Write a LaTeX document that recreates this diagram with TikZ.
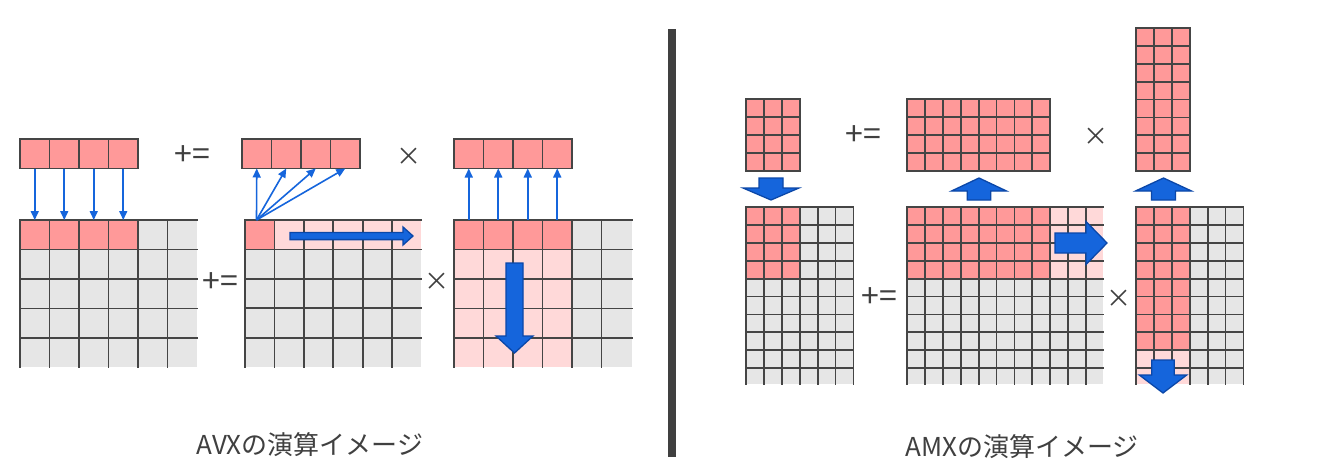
\documentclass[tikz,border=0pt]{standalone}
\usepackage{fontspec}
\setmainfont{Noto Sans CJK JP}
\usetikzlibrary{arrows.meta}
\definecolor{pk}{HTML}{FF9999}
\definecolor{lpk}{HTML}{FFD9D9}
\definecolor{gr}{HTML}{E6E6E6}
\definecolor{ln}{HTML}{454545}
\definecolor{bl}{HTML}{1565DC}
\definecolor{dbl}{HTML}{0B47A8}
\definecolor{tx}{HTML}{404040}
\newcommand{\mgrid}[7]{%
  \foreach \k in {0,...,#6} \draw[gl] ({#1+\k*#3},{#2}) -- ({#1+\k*#3},{#2+#5});
  \foreach \k in {0,...,#7} \draw[gl] ({#1},{#2+\k*#3}) -- ({#1+#4},{#2+\k*#3});
}
% vertical block arrow: cx, body end y, head base y, tip y, body half, head half
\newcommand{\blkV}[6]{%
  \draw[blk] ({#1-#5},{#2}) -- ({#1+#5},{#2}) -- ({#1+#5},{#3}) -- ({#1+#6},{#3})
    -- ({#1},{#4}) -- ({#1-#6},{#3}) -- ({#1-#5},{#3}) -- cycle;}
% horizontal block arrow: cy, body end x, head base x, tip x, body half, head half
\newcommand{\blkH}[6]{%
  \draw[blk] ({#2},{#1-#5}) -- ({#2},{#1+#5}) -- ({#3},{#1+#5}) -- ({#3},{#1+#6})
    -- ({#4},{#1}) -- ({#3},{#1-#6}) -- ({#3},{#1-#5}) -- cycle;}
\begin{document}
\begin{tikzpicture}[x=1pt,y=-1pt,
  gl/.style={draw=ln,line width=1.8pt,line cap=rect},
  cellA/.style={draw=ln,fill=pk,line width=1.8pt,minimum size=29.5pt,inner sep=0pt,outer sep=0pt,anchor=north west},
  thinarr/.style={draw=bl,line width=1.6pt,-{Triangle[length=9pt,width=8pt]}},
  blk/.style={fill=bl,draw=dbl,line width=1.3pt,line join=miter},
  txt/.style={text=tx,font=\fontsize{26}{30}\selectfont,inner sep=0pt},
  op/.style={text=tx,font=\fontsize{32}{36}\selectfont,inner sep=0pt},
  mul/.style={text=tx,font=\fontsize{25}{30}\selectfont,inner sep=0pt}]
\useasboundingbox (0,0) rectangle (1344,476);
\fill[white] (0,0) rectangle (1344,476);

% ===== AVX =====
% matrix 1
\fill[gr] (20,220) rectangle (197,367);
\fill[pk] (20,220) rectangle (138,249.5);
\mgrid{20}{220}{29.5}{177}{147}{5}{4}
\foreach \i in {1,...,4} \node[cellA] (va\i) at ({20+(\i-1)*29.5},139) {};
\foreach \i in {1,...,4} {
  \coordinate (ga\i) at ({20+(\i-0.5)*29.5},220);
  \draw[thinarr] (va\i.south) -- (ga\i);
}
% matrix 2
\fill[gr] (245,220) rectangle (421,367);
\fill[lpk] (245,220) rectangle (421,249.4);
\fill[pk] (245,220) rectangle (274.4,249.4);
\mgrid{245}{220}{29.4}{176}{147}{5}{4}
\foreach \i in {1,...,4} \node[cellA] (vb\i) at ({242+(\i-1)*29.5},139) {};
\coordinate (gb) at (256.5,220);
\foreach \i in {1,...,4} \draw[thinarr] (gb) -- (vb\i.south);
\blkH{236}{290}{403}{413}{3.6}{9}
% matrix 3
\fill[gr] (454,220) rectangle (632,367);
\fill[lpk] (454,220) rectangle (572,367);
\fill[pk] (454,220) rectangle (572,249.5);
\mgrid{454}{220}{29.5}{178}{147}{5}{4}
\foreach \i in {1,...,4} \node[cellA] (vc\i) at ({454+(\i-1)*29.5},139) {};
\foreach \i in {1,...,4} {
  \coordinate (gc\i) at ({454+(\i-0.5)*29.5},220);
  \draw[thinarr] (gc\i) -- (vc\i.south);
}
\blkV{514.5}{263}{336}{353}{8.5}{18.5}

\node[op] (p1) at (192,156) {+=};
\node[mul] (m1) at (409,157) {×};
\node[op] (p2) at (220,283) {+=};
\node[mul] (m2) at (437,282) {×};
\node[txt] (cap1) at (310,445) {AVXの演算イメージ};

% divider
\fill[tx] (668,29) rectangle (676,457);

% ===== AMX =====
% A
\fill[pk] (746,99) rectangle (799.7,170.6);
\mgrid{746}{99}{17.9}{53.7}{71.6}{3}{4}
\blkV{771}{178}{188}{200}{12}{28}
% C
\fill[gr] (746,207) rectangle (853.4,384);
\fill[pk] (746,207) rectangle (799.7,278.6);
\mgrid{746}{207}{17.9}{107.4}{177}{6}{9}
% B
\fill[pk] (907,99) rectangle (1050.2,170.6);
\mgrid{907}{99}{17.9}{143.2}{71.6}{8}{4}
\blkV{979}{200}{191}{178}{11.7}{27.5}
% M
\fill[gr] (907,207) rectangle (1103,384);
\fill[lpk] (1050.2,207) rectangle (1103,278.6);
\fill[pk] (907,207) rectangle (1050.2,278.6);
\mgrid{907}{207}{17.9}{196}{177}{10}{9}
\blkH{243}{1055}{1086}{1107}{10}{21.5}
% D
\fill[pk] (1136,28) rectangle (1189.7,171.2);
\mgrid{1136}{28}{17.9}{53.7}{143.2}{3}{8}
\blkV{1163.5}{200}{191}{178}{12}{28}
% R
\fill[gr] (1136,207) rectangle (1243.4,384);
\fill[lpk] (1136,350.2) rectangle (1189.7,384);
\fill[pk] (1136,207) rectangle (1189.7,350.2);
\mgrid{1136}{207}{17.9}{107.4}{177}{6}{9}
\blkV{1163}{360}{375}{393}{11.2}{23.7}

\node[op] (p3) at (863,136) {+=};
\node[mul] (m3) at (1096,137) {×};
\node[op] (p4) at (879,298) {+=};
\node[mul] (m4) at (1119,299) {×};
\node[txt] (cap2) at (1022,447) {AMXの演算イメージ};
\end{tikzpicture}
\end{document}
